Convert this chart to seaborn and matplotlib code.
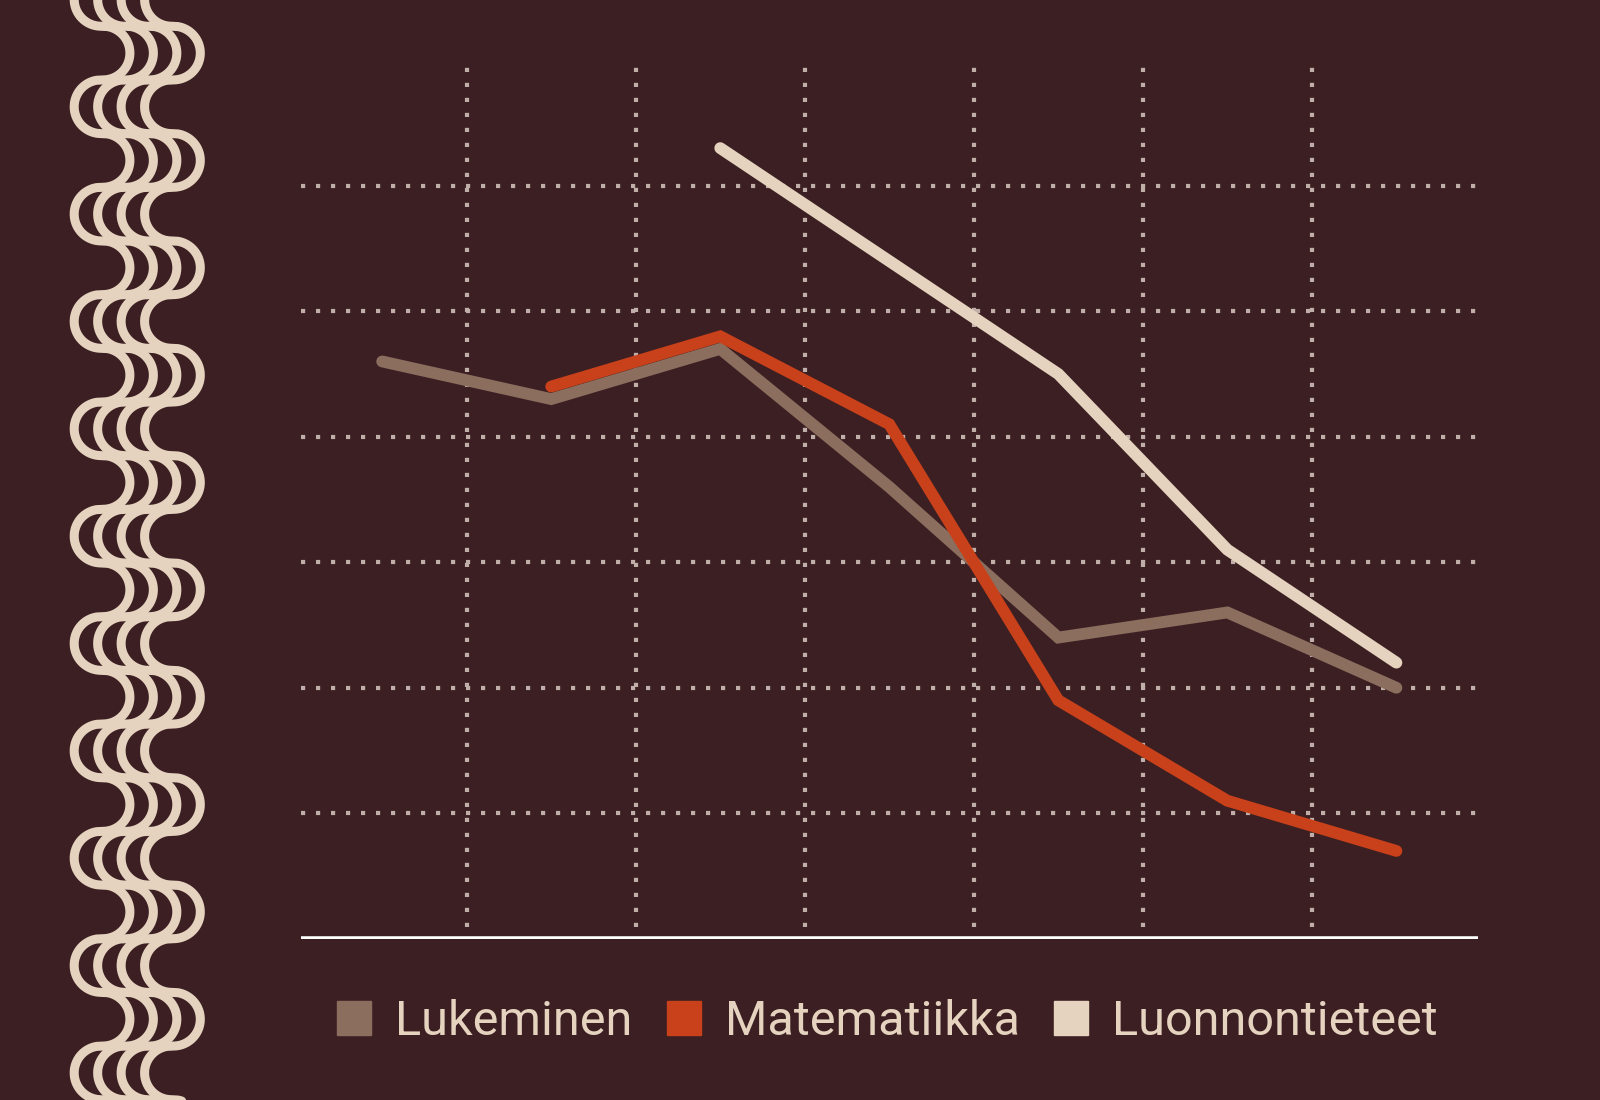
import numpy as np
import pandas as pd
import matplotlib
matplotlib.use("Agg")
import matplotlib.pyplot as plt
from matplotlib.lines import Line2D
import seaborn as sns

years = ["2000", "2003", "2006", "2009", "2012", "2015", "2018"]
lukeminen = [546, 543, 547, 536, 524, 526, 520]
matematiikka = [np.nan, 544, 548, 541, 519, 511, 507]
luonnontieteet = [np.nan, np.nan, 563, 554, 545, 531, 522]
series_names = ["Lukeminen", "Matematiikka", "Luonnontieteet"]
colors = ["#8B6E5E", "#C8411A", "#E5D3BF"]
bg = "#3C1F22"

rows = []
for name, vals in zip(series_names, [lukeminen, matematiikka, luonnontieteet]):
    for i, v in enumerate(vals):
        rows.append({"idx": i, "val": v, "series": name})
df = pd.DataFrame(rows).dropna()

sns.set_theme(style="white")
plt.rcParams['font.family'] = ['Roboto', 'DejaVu Sans']
W, H = 1568, 1078
fig = plt.figure(figsize=(16, 11), dpi=100, facecolor=bg)

# decorative wave overlay
deco = fig.add_axes([0, 0, 1, 1])
deco.set_xlim(0, W); deco.set_ylim(H, 0); deco.axis("off")
r = 26.3
t1 = np.linspace(-np.pi/2, np.pi/2, 40)
for k in range(4):
    cx = 99 + 23 * k
    xs, ys = [], []
    for j in range(-2, 12):
        yc = 52 + 4 * r * j
        xs += list(cx + 2 + r * np.cos(t1)); ys += list(yc + r * np.sin(t1))
        xs += list(cx - r * np.cos(t1)); ys += list(yc + 2 * r + r * np.sin(t1))
    deco.plot(xs, ys, color="#E5D3BF", lw=6.5, solid_capstyle="round")

ax = fig.add_axes([295 / W, 1 - 920 / H, (1448 - 295) / W, 920 / H])
ax.set_facecolor("none")
ax.set_xlim(-0.48, 6.48)
ax.set_ylim(500, 574.8)
for y in [510, 520, 530, 540, 550, 560]:
    ax.axhline(y, color="#BFAFA8", lw=3, ls=(0, (1, 2.6)), zorder=1)
ax.vlines(np.arange(0.5, 6, 1), 500.9, 570, color="#BFAFA8", lw=3, ls=(0, (1, 2.6)), zorder=1)
ax.axhline(500, color="white", lw=4, zorder=2)

sns.lineplot(data=df, x="idx", y="val", hue="series", hue_order=series_names,
             palette=colors, lw=8.5, ax=ax, legend=False, zorder=3,
             solid_capstyle="round", solid_joinstyle="miter")
ax.axis("off")

handles = [Line2D([], [], marker="s", ls="", color=c, markersize=24) for c in colors]
fig.legend(handles, series_names, loc="center", bbox_to_anchor=(866 / W, 1 - 1002 / H),
           ncol=3, frameon=False, fontsize=35, labelcolor="#E5D3BF",
           handletextpad=0.35, columnspacing=0.55, handlelength=1.0)

fig.savefig("out.png", facecolor=bg)
